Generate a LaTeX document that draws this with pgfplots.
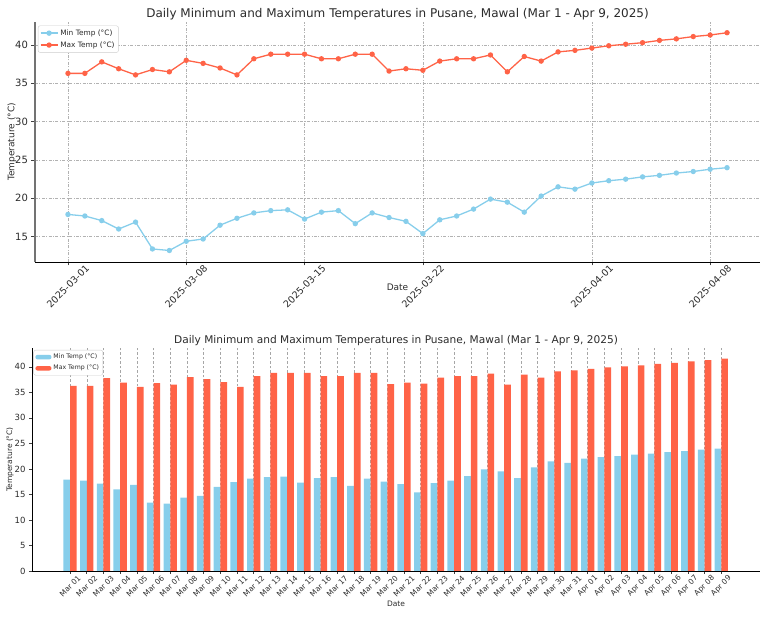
\documentclass[border=0pt]{standalone}
\usepackage{fontspec}
\setmainfont{DejaVu Sans}
\usepackage{pgfplots}
\usepackage{pgfplotstable}
\pgfplotsset{compat=1.18}

\definecolor{minc}{HTML}{87CEEB}
\definecolor{maxc}{HTML}{FF6347}
\definecolor{txt}{HTML}{2B2B2B}

% day index (0 = Mar 1), daily minimum and maximum in deg C
\pgfplotstableread{
day tmin tmax
0  17.9 36.3
1  17.7 36.3
2  17.1 37.8
3  16.0 36.9
4  16.9 36.1
5  13.4 36.8
6  13.2 36.5
7  14.4 38.0
8  14.7 37.6
9  16.5 37.0
10 17.4 36.1
11 18.1 38.2
12 18.4 38.8
13 18.5 38.8
14 17.3 38.8
15 18.2 38.2
16 18.4 38.2
17 16.7 38.8
18 18.1 38.8
19 17.5 36.6
20 17.0 36.9
21 15.4 36.7
22 17.2 37.9
23 17.7 38.2
24 18.6 38.2
25 19.9 38.7
26 19.5 36.5
27 18.2 38.5
28 20.3 37.9
29 21.5 39.1
30 21.2 39.3
31 22.0 39.6
32 22.3 39.9
33 22.5 40.1
34 22.8 40.3
35 23.0 40.6
36 23.3 40.8
37 23.5 41.1
38 23.8 41.3
39 24.0 41.6
}\temps

\newcommand{\ttl}{Daily Minimum and Maximum Temperatures in Pusane, Mawal (Mar 1 - Apr 9, 2025)}

\begin{document}
\begin{tikzpicture}
\path[use as bounding box] (0,0) rectangle (768pt,617pt);

% ---------- line chart ----------
\begin{axis}[
  at={(35pt,355pt)}, anchor=south west,
  scale only axis, width=725pt, height=240pt,
  xmin=-1.95, xmax=40.95, ymin=11.7, ymax=43.0,
  axis lines*=left, axis line style={-},
  x axis line style={black, line width=0.8pt},
  y axis line style={black!55, line width=1.6pt},
  tick align=outside, major tick length=3.5pt,
  tick style={black!75, line width=0.6pt},
  xtick={0,7,14,21,31,38},
  xticklabels={2025-03-01,2025-03-08,2025-03-15,2025-03-22,2025-04-01,2025-04-08},
  ytick={15,20,...,40},
  grid=major,
  grid style={black!30, line width=0.5pt, dash pattern=on 3pt off 1.5pt on 0.8pt off 1.5pt},
  /pgf/number format/assume math mode=true,
  yticklabel style={font=\fontsize{10}{12}\selectfont, text=txt},
  xticklabel style={font=\fontsize{9.5}{11}\selectfont, text=txt, yshift=-21pt, rotate=45, anchor=center},
  title={\ttl},
  title style={font=\fontsize{12}{14}\selectfont, text=txt, at={(0.5,1)}, anchor=south, inner sep=0pt, yshift=-4pt},
  ylabel={Temperature (°C)},
  ylabel style={at={([xshift=-23pt]axis description cs:0,0.5)}, anchor=center, font=\fontsize{9}{11}\selectfont, text=txt},
  xlabel={Date},
  xlabel style={at={([yshift=-25pt]axis description cs:0.5,0)}, anchor=center, font=\fontsize{9}{11}\selectfont, text=txt},
  legend style={at={(0.004,0.985)}, anchor=north west, font=\fontsize{7.4}{8.5}\selectfont,
    draw=black!20, rounded corners=2pt, text=txt, inner sep=1.8pt, row sep=0.8pt},
  legend cell align=left,
]
\addplot[minc, line width=1.3pt, mark=*, mark size=2pt] table[x=day, y=tmin]{\temps};
\addlegendentry{Min Temp (°C)}
\addplot[maxc, line width=1.3pt, mark=*, mark size=2pt] table[x=day, y=tmax]{\temps};
\addlegendentry{Max Temp (°C)}
\end{axis}

% ---------- bar chart ----------
\begin{axis}[
  at={(32pt,46pt)}, anchor=south west,
  scale only axis, width=728pt, height=223pt,
  xmin=-2.28, xmax=41.32, ymin=0, ymax=43.7,
  axis lines*=left, axis line style={-, black, line width=0.8pt},
  tick align=outside, major tick length=3pt,
  tick style={black!75, line width=0.6pt},
  xtick={0,...,39},
  xticklabels={Mar 01,Mar 02,Mar 03,Mar 04,Mar 05,Mar 06,Mar 07,Mar 08,Mar 09,Mar 10,
    Mar 11,Mar 12,Mar 13,Mar 14,Mar 15,Mar 16,Mar 17,Mar 18,Mar 19,Mar 20,
    Mar 21,Mar 22,Mar 23,Mar 24,Mar 25,Mar 26,Mar 27,Mar 28,Mar 29,Mar 30,
    Mar 31,Apr 01,Apr 02,Apr 03,Apr 04,Apr 05,Apr 06,Apr 07,Apr 08,Apr 09},
  ytick={0,5,...,40},
  xmajorgrids,
  grid style={black!35, line width=0.5pt, dash pattern=on 2.5pt off 2pt},
  /pgf/number format/assume math mode=true,
  yticklabel style={font=\fontsize{8.5}{10}\selectfont, text=txt},
  xticklabel style={font=\fontsize{7.5}{9}\selectfont, text=txt, yshift=-12pt, rotate=45, anchor=center},
  title={\ttl},
  title style={font=\fontsize{10.6}{12}\selectfont, text=txt, at={(0.5,1)}, anchor=south, inner sep=0pt, yshift=-4pt},
  ylabel={Temperature (°C)},
  ylabel style={at={([xshift=-22pt]axis description cs:0,0.5)}, anchor=center, font=\fontsize{7.5}{9}\selectfont, text=txt},
  xlabel={Date},
  xlabel style={at={([yshift=-33pt]axis description cs:0.5,0)}, anchor=center, font=\fontsize{7.5}{9}\selectfont, text=txt},
  legend style={at={(0.002,0.991)}, anchor=north west, font=\fontsize{6.2}{7.5}\selectfont,
    draw=black!20, rounded corners=2pt, text=txt, inner sep=1.8pt, row sep=1pt},
  legend cell align=left,
  legend image code/.code={\fill[#1, draw=none] (0pt,-2.2pt) rectangle (16pt,2.2pt);},
]
\addplot[ybar, bar width=0.4, bar shift=-0.2, fill=minc, draw=none] table[x=day, y=tmin]{\temps};
\addlegendentry{Min Temp (°C)}
\addplot[ybar, bar width=0.4, bar shift=0.2, fill=maxc, draw=none] table[x=day, y=tmax]{\temps};
\addlegendentry{Max Temp (°C)}
\end{axis}
\end{tikzpicture}
\end{document}
